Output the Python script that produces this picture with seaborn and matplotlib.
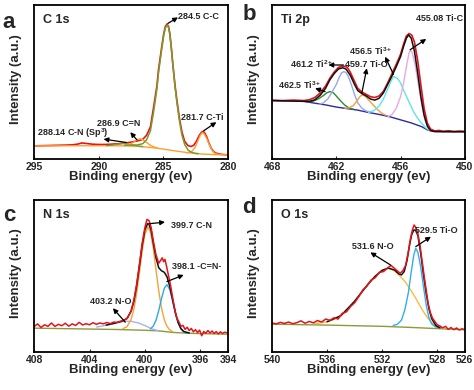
import matplotlib
matplotlib.use('Agg')
import matplotlib.pyplot as plt
import seaborn as sns

# ---- panel a: C 1s ----
a_raw_e = [295.0, 294.5, 294.0, 293.5, 293.0, 292.5, 292.0, 291.6, 291.3, 291.0, 290.5, 290.0, 289.5, 289.0,
           288.5, 288.0, 287.5, 287.0, 286.6, 286.3, 286.0, 285.75, 285.5, 285.37, 285.15, 284.98, 284.85,
           284.72, 284.6, 284.5, 284.38, 284.26, 284.1, 283.95, 283.75, 283.56, 283.35, 283.1, 282.85, 282.65,
           282.45, 282.25, 282.05, 281.92, 281.8, 281.65, 281.5, 281.3, 281.1, 280.9, 280.6, 280.3, 280.0]
a_raw_i = [8.6, 8.7, 8.8, 8.9, 9.0, 9.1, 9.3, 9.8, 10.5, 10.2, 9.7, 9.5, 9.5, 9.7,
           10.0, 10.4, 11.0, 11.8, 12.8, 15.5, 21.0, 34.0, 47.5, 58.5, 71.5, 81.0, 86.0,
           87.7, 86.0, 81.6, 72.0, 61.0, 48.0, 38.0, 26.0, 17.5, 11.5, 8.8, 8.2, 9.0,
           11.5, 15.0, 17.5, 18.0, 17.0, 14.5, 11.0, 7.0, 4.8, 3.8, 3.2, 2.9, 2.8]
a_cc_e = [288.0, 287.0, 286.6, 286.3, 286.0, 285.75, 285.5, 285.37, 285.15, 284.98, 284.85, 284.72, 284.6,
          284.5, 284.38, 284.26, 284.1, 283.95, 283.75, 283.56, 283.35, 283.1, 282.85, 282.6, 282.3]
a_cc_i = [9.0, 9.2, 10.0, 12.5, 18.5, 31.0, 45.5, 56.5, 70.0, 80.0, 85.0, 87.0, 85.5,
          81.0, 71.5, 60.5, 47.0, 36.5, 24.5, 15.5, 9.5, 6.0, 4.5, 3.8, 3.5]
a_sp3_e = [289.4, 289.0, 288.6, 288.2, 287.8, 287.4, 287.0, 286.6]
a_sp3_i = [8.7, 9.1, 9.7, 10.1, 9.9, 9.2, 8.6, 8.1]
a_cn_e = [288.0, 287.6, 287.3, 287.0, 286.8, 286.6, 286.3, 286.0, 285.7, 285.4]
a_cn_i = [8.7, 9.6, 11.0, 12.8, 13.2, 12.6, 10.8, 9.0, 7.8, 7.0]
a_cti_e = [283.2, 282.8, 282.55, 282.35, 282.15, 282.0, 281.85, 281.65, 281.45, 281.25, 281.05, 280.8, 280.5]
a_cti_i = [4.0, 5.0, 7.5, 11.5, 15.5, 17.2, 16.5, 13.5, 9.5, 6.0, 4.0, 3.1, 2.9]
a_bg_e = [295, 290, 288, 287, 286, 285, 284, 283, 282, 281, 280]
a_bg_i = [8.6, 8.7, 8.6, 8.3, 7.6, 6.5, 5.2, 4.1, 3.3, 2.9, 2.8]

# ---- panel b: Ti 2p ----
b_raw_e = [468.0, 467.0, 466.0, 465.0, 464.5, 464.0, 463.5, 463.0, 462.6, 462.2, 461.8, 461.4, 461.0, 460.7,
           460.3, 460.0, 459.6, 459.2, 458.8, 458.4, 458.0, 457.6, 457.2, 456.8, 456.4, 456.0, 455.7, 455.45,
           455.2, 454.95, 454.7, 454.4, 454.1, 453.8, 453.5, 453.2, 452.8, 452.4, 452.0, 451.5, 451.0, 450.5, 450.0]
b_raw_i = [38.2, 38.0, 38.3, 38.0, 38.6, 40.0, 43.0, 47.5, 52.5, 56.5, 59.5, 60.5, 59.8, 56.5,
           50.5, 46.0, 43.5, 42.0, 40.5, 40.0, 41.0, 44.0, 49.5, 55.5, 61.5, 68.0, 75.0, 80.0,
           81.5, 80.5, 76.0, 64.0, 48.0, 33.0, 23.5, 19.5, 18.3, 18.6, 18.0, 18.4, 17.9, 18.2, 18.0]
b_fit_e = [468.0, 465.5, 464.5, 464.0, 463.5, 463.0, 462.6, 462.2, 461.8, 461.4, 461.1, 460.7, 460.3, 460.0,
           459.6, 459.2, 458.8, 458.4, 458.0, 457.6, 457.2, 456.8, 456.4, 456.0, 455.7, 455.45, 455.25,
           455.0, 454.7, 454.4, 454.1, 453.8, 453.5, 453.2, 452.8, 450.0]
b_fit_i = [38.0, 37.6, 37.5, 38.5, 41.5, 46.0, 51.5, 55.5, 58.5, 59.3, 58.5, 54.5, 48.5, 44.5,
           42.5, 41.0, 39.0, 38.3, 39.5, 43.0, 48.5, 54.0, 60.0, 66.5, 73.5, 78.5, 80.6,
           78.5, 70.0, 56.0, 40.5, 28.5, 21.5, 18.5, 17.9, 17.8]
b_g_e = [464.8, 464.2, 463.7, 463.2, 462.9, 462.6, 462.3, 462.0, 461.6, 461.2, 460.8, 460.4]
b_g_i = [37.2, 37.5, 39.0, 41.3, 43.0, 43.8, 43.2, 41.0, 37.8, 35.0, 33.2, 32.4]
b_l_e = [463.6, 463.2, 462.8, 462.4, 462.0, 461.7, 461.5, 461.3, 461.1, 460.9, 460.6, 460.3, 460.0, 459.6,
         459.2, 458.8]
b_l_i = [35.6, 36.5, 39.0, 43.5, 48.5, 53.5, 56.0, 56.8, 56.2, 54.0, 48.5, 42.0, 36.5, 33.0, 31.2, 30.6]
b_o_e = [461.2, 460.8, 460.4, 460.1, 459.8, 459.6, 459.3, 459.0, 458.6, 458.2, 457.8, 457.4]
b_o_i = [33.0, 33.3, 34.8, 37.5, 40.5, 41.7, 40.8, 38.5, 35.5, 32.5, 30.0, 28.5]
b_c_e = [459.0, 458.5, 458.0, 457.6, 457.2, 456.9, 456.66, 456.3, 456.0, 455.6, 455.2, 454.8, 454.4, 454.0,
         453.6, 453.2]
b_c_i = [30.3, 31.5, 34.5, 39.0, 45.5, 50.5, 53.6, 52.5, 49.5, 43.0, 37.0, 31.0, 26.5, 23.0, 20.0, 18.2]
b_p_e = [457.2, 456.8, 456.4, 456.0, 455.7, 455.4, 455.2, 455.08, 454.9, 454.6, 454.3, 454.0, 453.7, 453.4,
         453.1]
b_p_i = [27.4, 29.0, 33.0, 40.5, 50.0, 62.0, 69.0, 70.8, 69.0, 60.0, 47.0, 34.5, 25.0, 20.0, 18.0]
b_bg_e = [468.0, 466.0, 465.0, 464.0, 463.0, 462.0, 461.0, 460.0, 459.0, 458.0, 457.0, 456.0, 455.0, 454.0,
          453.5, 453.0, 452.0, 450.0]
b_bg_i = [38.0, 37.8, 37.4, 36.3, 35.2, 33.8, 32.8, 31.8, 30.3, 29.0, 27.5, 25.5, 23.5, 21.0,
          19.0, 18.0, 17.8, 17.8]

# ---- panel c: N 1s ----
c_raw_e = [408.0, 407.75, 407.5, 407.25, 407.0, 406.75, 406.5, 406.25, 406.0, 405.75, 405.5, 405.25, 405.0,
           404.75, 404.5, 404.25, 404.0, 403.75, 403.5, 403.25, 403.0, 402.75, 402.5, 402.25, 402.0, 401.75,
           401.5, 401.25, 401.0, 400.8, 400.6, 400.4, 400.2, 400.0, 399.85, 399.7, 399.55, 399.4, 399.2,
           399.0, 398.85, 398.75, 398.65, 398.55, 398.45, 398.3, 398.15, 398.0, 397.85, 397.7, 397.55, 397.4,
           397.25, 397.1, 396.95, 396.8, 396.65, 396.5, 396.35, 396.2, 396.05, 395.9, 395.75, 395.6, 395.45,
           395.3, 395.15, 395.0, 394.85, 394.7, 394.55, 394.4, 394.25, 394.0]
c_raw_i = [16.8, 18.6, 16.2, 18.0, 17.0, 19.2, 16.9, 18.3, 17.4, 19.0, 17.1, 18.6, 17.6,
           19.6, 17.9, 18.7, 18.0, 19.4, 18.3, 19.2, 18.6, 19.5, 18.8, 19.8, 19.6, 20.4,
           21.0, 22.5, 27.0, 34.0, 44.5, 57.5, 71.5, 82.0, 87.3, 86.5, 82.0, 73.5, 64.0,
           58.5, 60.5, 62.0, 59.5, 61.0, 57.0, 50.5, 44.0, 36.0, 28.5, 22.5, 20.0, 17.0,
           17.6, 15.0, 16.4, 14.2, 15.6, 13.4, 14.8, 12.9, 14.5, 10.8, 13.6, 12.4, 14.2,
           12.6, 13.9, 12.3, 13.5, 12.0, 13.4, 12.3, 13.1, 12.6]
c_fit_e = [402.8, 402.2, 401.7, 401.3, 401.0, 400.8, 400.6, 400.4, 400.2, 400.0, 399.8, 399.7, 399.55, 399.4,
           399.2, 399.0, 398.8, 398.6, 398.4, 398.2, 398.0, 397.8, 397.6, 397.4, 397.2, 396.8]
c_fit_i = [17.8, 19.0, 20.2, 22.1, 26.9, 33.3, 43.4, 56.5, 70.1, 80.5, 84.6, 84.0, 80.0, 72.0,
           62.0, 55.5, 53.5, 52.5, 49.5, 43.0, 34.5, 26.0, 19.5, 15.5, 13.6, 12.6]
c_cn_e = [401.6, 401.3, 401.0, 400.8, 400.6, 400.4, 400.2, 400.0, 399.78, 399.6, 399.4, 399.2, 399.0, 398.8,
          398.6, 398.4, 398.2, 398.0]
c_cn_i = [15.4, 16.7, 21.4, 28.0, 38.4, 51.8, 66.1, 77.4, 82.4, 78.9, 68.5, 54.2, 40.2, 29.0,
          21.3, 16.9, 14.6, 13.5]
c_ceqn_e = [399.6, 399.4, 399.2, 399.0, 398.8, 398.6, 398.41, 398.2, 398.0, 397.8, 397.6, 397.4, 397.2, 397.0]
c_ceqn_i = [15.3, 17.1, 20.9, 27.4, 35.2, 42.0, 44.4, 41.1, 33.7, 25.6, 19.2, 15.3, 13.5, 12.7]
c_no_e = [403.5, 403.0, 402.5, 402.0, 401.5, 401.0, 400.5, 400.0, 399.5, 399.0]
c_no_i = [16.5, 17.3, 18.3, 19.5, 20.3, 20.3, 19.3, 17.5, 15.3, 14.0]
c_bg_e = [408.0, 406.0, 404.0, 402.0, 400.0, 399.0, 398.0, 397.0, 396.0, 394.0]
c_bg_i = [15.8, 15.5, 15.2, 14.9, 14.4, 14.0, 13.0, 12.5, 12.2, 11.8]

# ---- panel d: O 1s ----
d_raw_e = [540.0, 539.7, 539.4, 539.1, 538.8, 538.5, 538.2, 537.9, 537.6, 537.3, 537.0, 536.7, 536.4, 536.1,
           535.8, 535.5, 535.2, 534.9, 534.6, 534.3, 534.0, 533.7, 533.4, 533.1, 532.8, 532.5, 532.2, 531.9,
           531.6, 531.35, 531.1, 530.9, 530.7, 530.5, 530.3, 530.1, 529.95, 529.8, 529.68, 529.55, 529.4,
           529.25, 529.1, 528.95, 528.8, 528.65, 528.5, 528.35, 528.2, 528.0, 527.8, 527.6, 527.4, 527.2,
           527.0, 526.8, 526.6, 526.4, 526.2, 526.0]
d_raw_i = [19.2, 18.6, 19.6, 18.9, 19.8, 18.7, 19.4, 20.6, 19.0, 20.2, 19.3, 20.8, 19.8, 21.8,
           20.9, 22.6, 21.8, 25.5, 26.5, 30.0, 32.5, 36.5, 41.0, 43.5, 47.5, 49.0, 52.5, 53.0,
           55.5, 57.0, 55.0, 53.5, 51.9, 53.5, 57.0, 66.0, 74.5, 80.5, 83.6, 82.0, 77.5,
           70.0, 60.0, 50.0, 40.5, 31.5, 26.0, 22.5, 20.5, 18.0, 17.2, 16.0, 17.0, 15.0,
           16.2, 14.8, 15.9, 14.6, 15.4, 14.8]
d_fit_e = [536.0, 535.0, 534.0, 533.0, 532.5, 532.0, 531.55, 531.1, 530.8, 530.6, 530.4, 530.2, 530.0,
           529.85, 529.7, 529.55, 529.4, 529.2, 529.0, 528.8, 528.6, 528.4, 528.1, 527.8]
d_fit_i = [20.0, 24.0, 33.5, 45.0, 50.0, 53.8, 55.3, 54.0, 51.5, 50.8, 53.0, 60.0, 71.0,
           77.5, 80.3, 80.0, 76.5, 65.0, 51.0, 38.5, 28.5, 22.0, 17.5, 16.0]
d_no_e = [537.0, 536.5, 536.0, 535.5, 535.0, 534.5, 534.0, 533.5, 533.0, 532.5, 532.0, 531.55, 531.1,
          530.7, 530.3, 529.9, 529.5, 529.1, 528.7, 528.3, 527.9, 527.5]
d_no_i = [18.6, 19.2, 20.0, 21.5, 24.0, 28.0, 33.5, 39.5, 45.0, 50.0, 53.8, 55.1, 53.5,
          50.0, 46.0, 40.5, 34.5, 28.0, 22.5, 18.5, 16.3, 15.8]
d_tio_e = [531.2, 530.9, 530.6, 530.35, 530.1, 529.9, 529.7, 529.56, 529.4, 529.2, 529.0, 528.8, 528.6,
           528.4, 528.1, 527.8]
d_tio_i = [17.6, 18.3, 21.0, 28.0, 39.0, 52.0, 64.0, 68.3, 65.5, 56.0, 43.0, 31.0, 22.5, 18.5, 16.5, 16.0]
d_bg_e = [540.0, 536.0, 532.0, 530.0, 528.0, 526.0]
d_bg_i = [18.4, 17.8, 17.0, 16.3, 15.5, 14.7]

RED = '#e3141c'
BOLD = dict(fontweight='bold')

sns.set_style('ticks')
plt.rcParams['font.family'] = ['Liberation Sans', 'DejaVu Sans']
plt.rcParams['mathtext.fontset'] = 'custom'
plt.rcParams['mathtext.rm'] = 'Liberation Sans:bold'
plt.rcParams['mathtext.it'] = 'Liberation Sans:bold'
plt.rcParams['mathtext.bf'] = 'Liberation Sans:bold'
plt.rcParams['mathtext.default'] = 'rm'


def trace(ax, x, y, color, lw=1.0):
    sns.lineplot(x=x, y=y, ax=ax, color=color, lw=lw, sort=False, estimator=None, legend=False)


def arrow(ax, tail, head):
    ax.annotate('', xy=head, xytext=tail,
                arrowprops=dict(arrowstyle='-|>', color='black', lw=0.9, mutation_scale=7,
                                shrinkA=0, shrinkB=0))


def note(ax, x, y, s):
    ax.text(x, y, s, fontsize=6.5, ha='center', va='center', **BOLD)


def style(ax, xlim, ticks, title):
    ax.set_xlim(*xlim)
    ax.set_ylim(0, 100)
    ax.set_xticks(ticks)
    ax.set_xticklabels([str(t) for t in ticks], fontsize=7.5, fontweight='bold')
    ax.set_yticks([])
    ax.tick_params(axis='x', direction='in', length=2, pad=2)
    for sp in ax.spines.values():
        sp.set_linewidth(1.3)
        sp.set_color('black')
    ax.set_xlabel('Binding energy (ev)', fontsize=9.5, **BOLD)
    ax.set_ylabel('Intensity (a.u.)', fontsize=9.5, **BOLD)
    ax.xaxis.set_label_coords(0.5, -0.075)
    ax.yaxis.set_label_coords(-0.065, 0.52)
    ax.text(0.045, 0.9, title, transform=ax.transAxes, fontsize=9, ha='left', va='center', **BOLD)


fig = plt.figure(figsize=(4.74, 3.9), dpi=100)
ax_a = fig.add_axes([0.072, 0.592, 0.409, 0.395])
ax_b = fig.add_axes([0.574, 0.592, 0.4065, 0.395])
ax_c = fig.add_axes([0.072, 0.097, 0.409, 0.39])
ax_d = fig.add_axes([0.574, 0.097, 0.4065, 0.39])

# a
trace(ax_a, a_raw_e, a_raw_i, RED, 1.2)
trace(ax_a, a_bg_e, a_bg_i, '#ff9f2e')
trace(ax_a, a_sp3_e, a_sp3_i, '#7d9a2a')
trace(ax_a, a_cn_e, a_cn_i, '#ff9f2e')
trace(ax_a, a_cti_e, a_cti_i, '#ff9f2e')
trace(ax_a, a_cc_e, a_cc_i, '#7d9a2a', 1.1)
style(ax_a, (295, 280), [295, 290, 285, 280], 'C 1s')
arrow(ax_a, (284.65, 88.1), (283.87, 92.0))
note(ax_a, 282.3, 92.9, '284.5 C-C')
arrow(ax_a, (287.05, 12.5), (287.56, 17.5))
note(ax_a, 288.42, 22.9, '286.9 C=N')
arrow(ax_a, (287.87, 10.8), (289.63, 13.0))
note(ax_a, 292.0, 16.8, '288.14 C-N (Sp$^3$)')
arrow(ax_a, (281.88, 18.4), (280.9, 24.0))
note(ax_a, 281.98, 27.2, '281.7 C-Ti')

# b
trace(ax_b, b_bg_e, b_bg_i, '#2a2a9e')
trace(ax_b, b_g_e, b_g_i, '#2e8b2e')
trace(ax_b, b_l_e, b_l_i, '#9ba6e6')
trace(ax_b, b_o_e, b_o_i, '#f0a23c')
trace(ax_b, b_c_e, b_c_i, '#5ee6e6')
trace(ax_b, b_p_e, b_p_i, '#e6a9e6')
trace(ax_b, b_raw_e, b_raw_i, RED, 1.2)
trace(ax_b, b_fit_e, b_fit_i, '#111111', 1.1)
style(ax_b, (468, 450), [468, 462, 456, 450], 'Ti 2p')
arrow(ax_b, (455.1, 71.0), (453.6, 78.0))
note(ax_b, 452.35, 91.4, '455.08 Ti-C')
arrow(ax_b, (456.66, 55.0), (457.44, 66.5))
note(ax_b, 458.77, 69.8, '456.5 Ti$^{3+}$')
arrow(ax_b, (459.62, 42.8), (459.15, 59.0))
note(ax_b, 459.23, 61.6, '459.7 Ti-O')
arrow(ax_b, (461.34, 61.1), (462.74, 61.1))
note(ax_b, 464.26, 61.6, '461.2 Ti$^{2+}$')
arrow(ax_b, (463.05, 43.8), (463.98, 46.0))
note(ax_b, 465.43, 48.2, '462.5 Ti$^{3+}$')

# c
trace(ax_c, c_bg_e, c_bg_i, '#8c9a3a')
trace(ax_c, c_no_e, c_no_i, '#a9b1ee')
trace(ax_c, c_cn_e, c_cn_i, '#f0a53a')
trace(ax_c, c_ceqn_e, c_ceqn_i, '#2ea8e6')
trace(ax_c, c_fit_e, c_fit_i, '#111111', 1.1)
trace(ax_c, c_raw_e, c_raw_i, RED, 1.1)
style(ax_c, (408, 394), [408, 404, 400, 396, 394], 'N 1s')
arrow(ax_c, (399.65, 84.5), (398.55, 85.5))
note(ax_c, 396.67, 83.6, '399.7 C-N')
arrow(ax_c, (398.41, 46.4), (397.2, 50.8))
note(ax_c, 396.24, 56.2, '398.1 -C=N-')
arrow(ax_c, (401.42, 19.7), (402.31, 28.9))
note(ax_c, 402.45, 33.3, '403.2 N-O')

# d
trace(ax_d, d_bg_e, d_bg_i, '#8c9a3a')
trace(ax_d, d_no_e, d_no_i, '#f0c040')
trace(ax_d, d_tio_e, d_tio_i, '#2fb0ee')
trace(ax_d, d_fit_e, d_fit_i, '#111111', 1.1)
trace(ax_d, d_raw_e, d_raw_i, RED, 1.1)
style(ax_d, (540, 526), [540, 536, 532, 528, 526], 'O 1s')
arrow(ax_d, (529.56, 69.4), (528.46, 75.9))
note(ax_d, 528.05, 80.3, '529.5 Ti-O')
arrow(ax_d, (531.39, 57.3), (532.86, 65.6))
note(ax_d, 532.68, 69.4, '531.6 N-O')

for letter, x, y in [('a', 0.006, 0.969), ('b', 0.511, 0.991), ('c', 0.006, 0.474), ('d', 0.511, 0.495)]:
    fig.text(x, y, letter, fontsize=16, ha='left', va='top', **BOLD)

fig.savefig('out.png', dpi=100)
